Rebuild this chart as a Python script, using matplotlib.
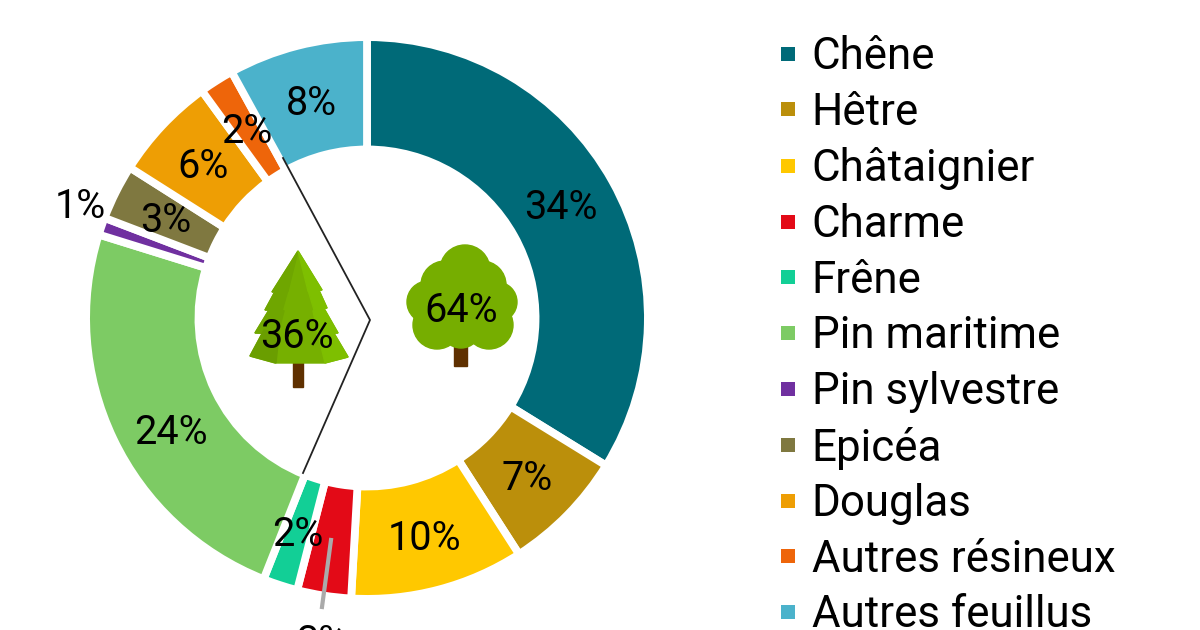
# donut des essences, avec les deux icones d'arbres au centre
import matplotlib
matplotlib.use("Agg")
import matplotlib.pyplot as plt
from matplotlib.lines import Line2D
from matplotlib.patches import Polygon, Circle, Rectangle

plt.rcParams["font.family"] = ["Roboto", "DejaVu Sans"]

essences = ["Chêne", "Hêtre", "Châtaignier", "Charme", "Frêne", "Pin maritime",
            "Pin sylvestre", "Epicéa", "Douglas", "Autres résineux", "Autres feuillus"]
parts = [33.8, 7.1, 10.0, 3.1, 2.0, 23.8, 1.0, 3.2, 6.0, 2.0, 8.0]
couleurs = ["#006a78", "#bb8f0b", "#ffc800", "#e30a17", "#12cf96", "#7dcb64",
            "#7030a0", "#7f7840", "#ee9e04", "#ee650a", "#4bb2cb"]
total_feuillus = "64%"
total_resineux = "36%"

W, H = 1200, 630
cx, cy, R = 367, 318, 280.9
FS = 28.5

fig = plt.figure(figsize=(12, 6.3), dpi=100)

# le donut
ax = fig.add_axes([(cx - R) / W, (H - cy - R) / H, 2 * R / W, 2 * R / H])
wedges, _, pct = ax.pie(parts, colors=couleurs, startangle=90, counterclock=False,
                        radius=1, autopct="%.0f%%", pctdistance=0.801,
                        wedgeprops=dict(width=0.4, edgecolor="white", linewidth=5.6),
                        textprops=dict(fontsize=FS, color="black"))
ax.set_xlim(-1, 1)
ax.set_ylim(-1, 1)

# les textes sont un peu plus bas que le centre de l'anneau
for t in pct:
    x, y = t.get_position()
    t.set_position((x, y - 3 / R))

# quelques etiquettes ne suivent pas l'anneau
pct[0].set_position(((561 - cx) / R, (cy - 208) / R))
pct[3].set_position(((322 - cx) / R, (cy - 642) / R))
pct[5].set_position(((171 - cx) / R, (cy - 433) / R))
pct[6].set_position(((80 - cx) / R, (cy - 207) / R))

# calque en pixels pour les traits et les icones
ax.set_zorder(1)
deco = fig.add_axes([0, 0, 1, 1], zorder=2)
deco.set_xlim(0, W)
deco.set_ylim(H, 0)
deco.axis("off")
deco.patch.set_alpha(0)

# sapin
deco.add_patch(Rectangle((293, 360), 10, 27, color="#5f3000", zorder=1))
etages = [
    [(298, 251), (272, 292), (322, 290)],
    [(278, 286), (265, 310), (327, 308), (317, 286)],
    [(272, 305), (255, 333), (338, 333), (322, 305)],
    [(264, 330), (250, 356), (275, 363), (325, 363), (348, 357), (332, 330)],
]
for pts in etages[::-1]:
    deco.add_patch(Polygon(pts, color="#76b000", zorder=2))
deco.add_patch(Polygon([(298, 251), (272, 292), (288, 291)], color="#6fa600", zorder=3))
deco.add_patch(Polygon([(298, 251), (322, 290), (308, 291)], color="#7ebf00", zorder=3))
deco.add_patch(Polygon([(278, 286), (265, 310), (282, 311), (288, 290)], color="#6fa600", zorder=3))
deco.add_patch(Polygon([(317, 286), (327, 308), (314, 310), (308, 290)], color="#7ebf00", zorder=3))
deco.add_patch(Polygon([(272, 305), (255, 333), (278, 334), (284, 311)], color="#6fa600", zorder=3))
deco.add_patch(Polygon([(322, 305), (338, 333), (318, 334), (313, 311)], color="#7ebf00", zorder=3))
deco.add_patch(Polygon([(264, 330), (250, 356), (276, 363), (279, 334)], color="#6a9e00", zorder=3))
deco.add_patch(Polygon([(332, 330), (348, 357), (325, 363), (318, 334)], color="#7ebf00", zorder=3))

# feuillu
deco.add_patch(Rectangle((454, 340), 13, 26, color="#5f3000", zorder=1))
for x, y, r in [(465, 270, 25), (445, 285, 24), (482, 285, 24), (428, 302, 21), (497, 302, 20),
                (437, 325, 24), (489, 325, 24), (461, 305, 40), (461, 328, 20)]:
    deco.add_patch(Circle((x, y), r, color="#76ae00", zorder=2))

# separation feuillus / resineux
deco.add_line(Line2D([283, 370, 303], [158, 320, 473], color="#222222", lw=1.3, zorder=3))
deco.add_line(Line2D([331, 322], [540, 607], color="#aaaaaa", lw=3, zorder=3))

deco.text(461, 310, total_feuillus, fontsize=FS, ha="center", va="center", zorder=4)
deco.text(297, 336, total_resineux, fontsize=FS, ha="center", va="center", zorder=4)

# legende
poignees = [Line2D([], [], marker="s", ls="", ms=9.5, mew=0, color=c) for c in couleurs]
fig.legend(poignees, essences, loc="upper left", bbox_to_anchor=(774.5 / W, 1 - 36 / H),
           frameon=False, fontsize=31.6, labelspacing=0.311, handlelength=0.6,
           handletextpad=0.25, borderpad=0, borderaxespad=0)

fig.savefig("out.png", dpi=100)
